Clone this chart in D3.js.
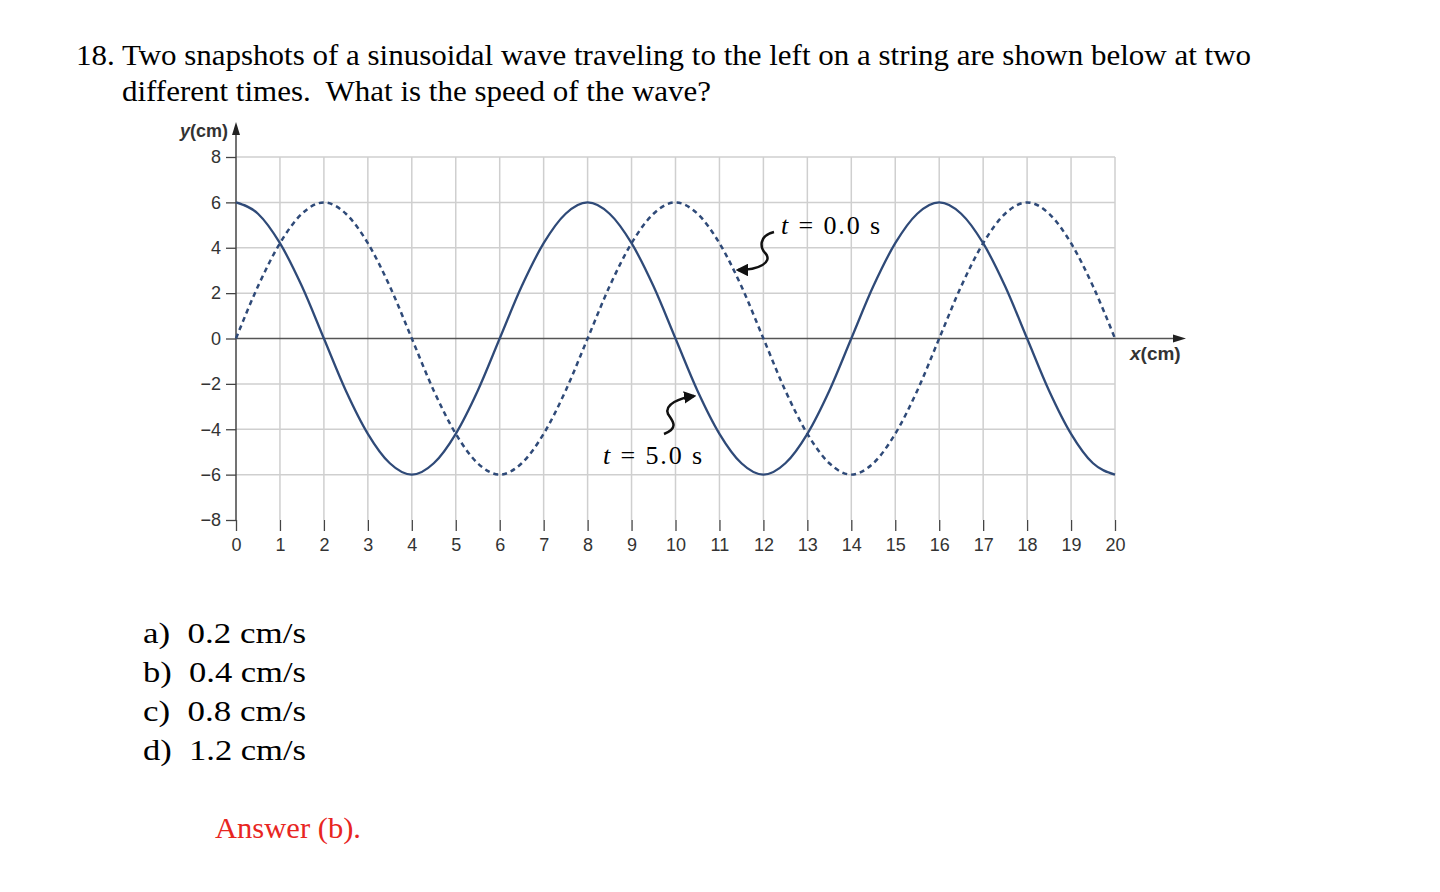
<!DOCTYPE html>
<html>
<head>
<meta charset="utf-8">
<script src="https://cdn.jsdelivr.net/npm/d3@7"></script>
<style>
  body { margin: 0; background: #fff; }
  svg text { font-family: "Liberation Sans", Arial, sans-serif; }
  .serif { font-family: "Liberation Serif", "Times New Roman", serif !important; }
</style>
</head>
<body>
<svg id="chart" width="1440" height="892"></svg>
<script>
// readings taken every 0.5 cm along the string
var xs = d3.range(0, 20.01, 0.5);
var solidY = [6, 5.5, 4.2, 2.3, 0, -2.3, -4.2, -5.5, -6, -5.5, -4.2, -2.3, 0, 2.3, 4.2, 5.5,
  6, 5.5, 4.2, 2.3, 0, -2.3, -4.2, -5.5, -6, -5.5, -4.2, -2.3, 0, 2.3, 4.2, 5.5,
  6, 5.5, 4.2, 2.3, 0, -2.3, -4.2, -5.5, -6];
var dashedY = [0, 2.3, 4.2, 5.5, 6, 5.5, 4.2, 2.3, 0, -2.3, -4.2, -5.5, -6, -5.5, -4.2, -2.3,
  0, 2.3, 4.2, 5.5, 6, 5.5, 4.2, 2.3, 0, -2.3, -4.2, -5.5, -6, -5.5, -4.2, -2.3,
  0, 2.3, 4.2, 5.5, 6, 5.5, 4.2, 2.3, 0];
var xTicks = d3.range(0, 21);
var yTicks = [8, 6, 4, 2, 0, -2, -4, -6, -8];
var options = ['a)  0.2 cm/s', 'b)  0.4 cm/s', 'c)  0.8 cm/s', 'd)  1.2 cm/s'];

var svg = d3.select('#chart');
var x = d3.scaleLinear().domain([0, 20]).range([236, 1115]);
var y = d3.scaleLinear().domain([-8, 8]).range([520, 157]);
var blue = '#2f4a78';

// question text
svg.append('text').attr('class', 'serif').attr('x', 76).attr('y', 65)
  .attr('font-size', 29).attr('textLength', 1175).attr('lengthAdjust', 'spacingAndGlyphs')
  .text('18. Two snapshots of a sinusoidal wave traveling to the left on a string are shown below at two');
svg.append('text').attr('class', 'serif').attr('x', 122).attr('y', 101)
  .attr('font-size', 29).attr('textLength', 589).attr('lengthAdjust', 'spacingAndGlyphs')
  .attr('xml:space', 'preserve')
  .text('different times.  What is the speed of the wave?');

// grid
svg.append('g').selectAll('line').data(xTicks.slice(1)).enter().append('line')
  .attr('x1', x).attr('x2', x).attr('y1', y(8)).attr('y2', y(-8))
  .attr('stroke', '#cfcfcf').attr('stroke-width', 1.5);
svg.append('g').selectAll('line').data(yTicks.filter(function(d) { return d !== 0 && d !== -8; })).enter().append('line')
  .attr('x1', x(0)).attr('x2', x(20)).attr('y1', y).attr('y2', y)
  .attr('stroke', '#cfcfcf').attr('stroke-width', 1.5);

// y axis
svg.append('g').attr('transform', 'translate(' + x(0) + ',0)')
  .call(d3.axisLeft(y).tickValues(yTicks).tickSize(10).tickSizeOuter(0)
    .tickFormat(function(d) { return d < 0 ? '\u2212' + (-d) : d; }))
  .call(function(g) {
    g.select('.domain').remove();
    g.selectAll('.tick line').attr('stroke', '#444').attr('stroke-width', 1.3);
    g.selectAll('.tick text').attr('font-size', 18).attr('fill', '#333').attr('dx', -2);
  });
svg.append('line').attr('x1', x(0)).attr('x2', x(0)).attr('y1', y(-8)).attr('y2', 128)
  .attr('stroke', '#444').attr('stroke-width', 1.5);
svg.append('path').attr('d', 'M' + x(0) + ',122 l-4,13 l8,0 z').attr('fill', '#222');
svg.append('text').attr('x', x(0) - 8).attr('y', 137).attr('text-anchor', 'end')
  .attr('font-size', 18).attr('font-weight', 'bold').attr('fill', '#333')
  .html('<tspan font-style="italic">y</tspan>(cm)');

// x axis ticks at bottom
svg.append('g').attr('transform', 'translate(0,' + y(-8) + ')')
  .call(d3.axisBottom(x).tickValues(xTicks).tickSize(11).tickSizeOuter(0))
  .call(function(g) {
    g.select('.domain').remove();
    g.selectAll('.tick line').attr('stroke', '#444').attr('stroke-width', 1.3);
    g.selectAll('.tick text').attr('font-size', 18).attr('fill', '#333').attr('dy', '0.95em');
  });
svg.append('line').attr('x1', x(0)).attr('x2', 1176).attr('y1', y(0)).attr('y2', y(0))
  .attr('stroke', '#555').attr('stroke-width', 1.5);
svg.append('path').attr('d', 'M1186,' + y(0) + ' l-13,-4 l0,8 z').attr('fill', '#222');
svg.append('text').attr('x', 1130).attr('y', 360).attr('font-size', 19)
  .attr('font-weight', 'bold').attr('fill', '#333')
  .html('<tspan font-style="italic">x</tspan>(cm)');

// waves
var line = d3.line().x(function(d) { return x(d[0]); }).y(function(d) { return y(d[1]); })
  .curve(d3.curveMonotoneX);
svg.append('path').datum(d3.zip(xs, dashedY)).attr('d', line)
  .attr('fill', 'none').attr('stroke', blue).attr('stroke-width', 2.5)
  .attr('stroke-dasharray', '5,4');
svg.append('path').datum(d3.zip(xs, solidY)).attr('d', line)
  .attr('fill', 'none').attr('stroke', blue).attr('stroke-width', 2.3);

// labels with squiggly arrows
svg.append('defs').append('marker').attr('id', 'ah').attr('viewBox', '0 0 10 10')
  .attr('refX', 8).attr('refY', 5).attr('markerWidth', 5).attr('markerHeight', 5)
  .attr('orient', 'auto').append('path').attr('d', 'M0,0 L10,5 L0,10 z').attr('fill', '#111');
svg.append('path').attr('d', 'M774,232 C758,236 760,248 766,254 C772,262 760,270 738,270')
  .attr('fill', 'none').attr('stroke', '#111').attr('stroke-width', 2.5).attr('marker-end', 'url(#ah)');
svg.append('path').attr('d', 'M664,434 C680,428 672,420 668,414 C664,404 680,398 694,396')
  .attr('fill', 'none').attr('stroke', '#111').attr('stroke-width', 2.5).attr('marker-end', 'url(#ah)');
svg.append('text').attr('class', 'serif').attr('x', 781).attr('y', 234).attr('font-size', 26)
  .attr('textLength', 99).attr('lengthAdjust', 'spacing')
  .html('<tspan font-style="italic">t</tspan> = 0.0 s');
svg.append('text').attr('class', 'serif').attr('x', 603).attr('y', 464).attr('font-size', 26)
  .attr('textLength', 99).attr('lengthAdjust', 'spacing')
  .html('<tspan font-style="italic">t</tspan> = 5.0 s');

// answer choices
svg.append('g').selectAll('text').data(options).enter().append('text')
  .attr('class', 'serif').attr('x', 143).attr('y', function(d, i) { return 643 + i * 39; })
  .attr('font-size', 30).attr('xml:space', 'preserve')
  .attr('textLength', 163).attr('lengthAdjust', 'spacingAndGlyphs')
  .text(function(d) { return d; });
svg.append('text').attr('class', 'serif').attr('x', 215).attr('y', 838).attr('font-size', 30)
  .attr('textLength', 146).attr('lengthAdjust', 'spacingAndGlyphs')
  .attr('fill', '#e8261f').text('Answer (b).');
</script>
</body>
</html>
